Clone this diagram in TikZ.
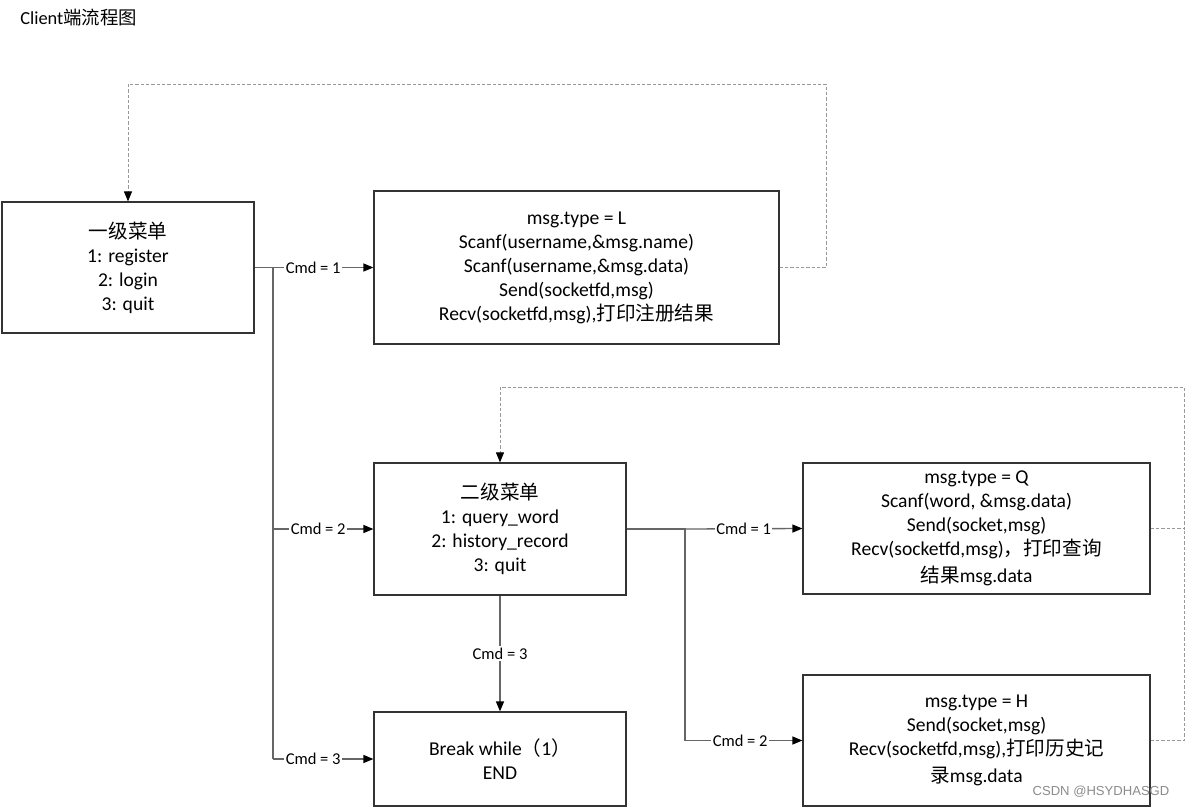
\documentclass[tikz,border=0pt]{standalone}
\usepackage{fontspec}
\setmainfont{Carlito}
\newfontfamily\cjk{Noto Sans CJK SC}
\newfontfamily\wmfont{Liberation Sans}
\usetikzlibrary{arrows.meta}
\begin{document}
\begin{tikzpicture}[x=0.75pt,y=-0.75pt,
  box/.style={draw=black!80,line width=0.9pt,fill=white,inner sep=0pt,align=center,
    font=\fontsize{14.7}{18}\selectfont},
  conn/.style={draw=black!60,line width=1pt},
  arr/.style={conn,-{Triangle[length=7.5pt,width=6pt,color=black]}},
  dsh/.style={draw=black!40,line width=0.7pt,dash pattern=on 2.5pt off 1.5pt},
  lab/.style={fill=white,inner sep=1pt,font=\fontsize{12.4}{14}\selectfont}]
\useasboundingbox (0,0) rectangle (1186,808);
\node[anchor=west,inner sep=0pt,font=\fontsize{13.8}{16}\selectfont] (title) at (20,18) {Client{\cjk 端流程图}};
% boxes
\node[box,minimum width=189pt,minimum height=98.25pt] (b1) at (128,267.5)
  {{\cjk 一级菜单}\\1: register\\2: login\\3: quit};
\node[box,minimum width=303.75pt,minimum height=114.75pt] (b2) at (576.5,267.5)
  {msg.type = L\\Scanf(username,\&msg.name)\\Scanf(username,\&msg.data)\\Send(socketfd,msg)\\Recv(socketfd,msg),{\cjk 打印注册结果}};
\node[box,minimum width=189pt,minimum height=99pt] (b3) at (500,529)
  {{\cjk 二级菜单}\\1: query\_word\\2: history\_record\\3: quit};
\node[box,minimum width=260.25pt,minimum height=98.25pt] (b4) at (976.5,528.5)
  {msg.type = Q\\Scanf(word, \&msg.data)\\Send(socket,msg)\\Recv(socketfd,msg){\cjk ，打印查询}\\[2pt]{\cjk 结果}msg.data};
\node[box,minimum width=260.25pt,minimum height=98.25pt] (b5) at (976.5,740.5)
  {msg.type = H\\Send(socket,msg)\\Recv(socketfd,msg),{\cjk 打印历史记}\\[2pt]{\cjk 录}msg.data};
\node[box,minimum width=189pt,minimum height=70.5pt] (b6) at (500,759)
  {Break while{\cjk （}1{\cjk ）}\\END};
% junctions
\coordinate (j1) at (273,267.5);
\coordinate (j1c) at (273,759);
\coordinate (j2) at (685,529);
\coordinate (j2c) at (685,740.5);
\draw[conn] (b1.east) -- (j1) -- (j1c);
\draw[arr] (j1) -- node[lab,pos=0.4] {Cmd = 1} (b2.west);
\draw[arr] (j1 |- b3.west) -- node[lab,pos=0.45] {Cmd = 2} (b3.west);
\draw[arr] (j1c) -- node[lab,pos=0.4] {Cmd = 3} (b6.west);
\draw[conn] (b3.east) -- (j2) -- (j2c);
\draw[arr] (j2) -- node[lab,pos=0.5] {Cmd = 1} (b4.west);
\draw[arr] (j2c) -- node[lab,pos=0.47] {Cmd = 2} (b5.west);
\draw[arr] (b3.south) -- node[lab] {Cmd = 3} (b6.north);
% dashed feedback loops
\coordinate (d1a) at (826,267.5);
\coordinate (d1b) at (826,84);
\coordinate (d1c) at (128,84);
\draw[dsh,-{Triangle[length=7.5pt,width=6pt,color=black]}] (b2.east) -- (d1a) -- (d1b) -- (d1c) -- (b1.north);
\coordinate (d2a) at (1184,528.5);
\coordinate (d2b) at (1184,387);
\coordinate (d2c) at (500,387);
\coordinate (d2d) at (1184,740.5);
\draw[dsh,-{Triangle[length=7.5pt,width=6pt,color=black]}] (b4.east) -- (d2a) -- (d2b) -- (d2c) -- (b3.north);
\draw[dsh] (b5.east) -- (d2d) -- (d2a);
% watermark
\node[text=black!45,font=\wmfont\fontsize{9.8}{12}\selectfont] (wm) at (1101,792) {CSDN @HSYDHASGD};
\end{tikzpicture}
\end{document}
